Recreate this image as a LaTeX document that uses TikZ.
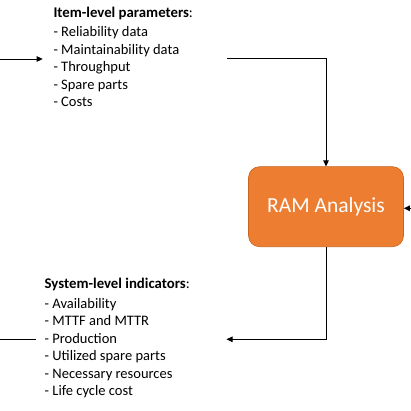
\documentclass[tikz,border=0pt]{standalone}
\usepackage{fontspec}
\setmainfont{Carlito}
\usetikzlibrary{arrows.meta}
\definecolor{ramorange}{HTML}{ED7D31}
\definecolor{ramedge}{HTML}{C8651F}
\begin{document}
\begin{tikzpicture}[x=1pt,y=-1pt,
  conn/.style={draw=black,line width=0.8pt},
  arr/.style={conn,-{Triangle[length=6pt,width=5.5pt]}},
  titletext/.style={anchor=base west,inner sep=0pt,font=\fontsize{14.8}{18}\selectfont},
  itemtext/.style={anchor=base west,inner sep=0pt,font=\fontsize{14.5}{17}\selectfont},
  rambox/.style={draw=ramedge,line width=0.6pt,fill=ramorange,rounded corners=11pt,minimum width=155pt,minimum height=80pt,inner sep=0pt,text=white,font=\fontsize{21.5}{24}\selectfont}]
\useasboundingbox[fill=white] (0,0) rectangle (411,411);
% Item-level block
\node[titletext] (ititle) at (53.3,18) {\textbf{Item-level parameters}:};
\node[itemtext] (i1) at (53.3,36.7) {- Reliability data};
\node[itemtext] (i2) at (53.3,54.2) {- Maintainability data};
\node[itemtext] (i3) at (53.3,71.7) {- Throughput};
\node[itemtext] (i4) at (53.3,89.2) {- Spare parts};
\node[itemtext] (i5) at (53.3,106.7) {- Costs};
% System-level block
\node[titletext] (stitle) at (44.5,288.5) {\textbf{System-level indicators}:};
\node[itemtext] (s1) at (44.5,308.3) {- Availability};
\node[itemtext] (s2) at (44.5,325.8) {- MTTF and MTTR};
\node[itemtext] (s3) at (44.5,343.3) {- Production};
\node[itemtext] (s4) at (44.5,360.8) {- Utilized spare parts};
\node[itemtext] (s5) at (44.5,378.3) {- Necessary resources};
\node[itemtext] (s6) at (44.5,395.8) {- Life cycle cost};
% RAM box
\node[rambox] (ram) at (326,206.7) {RAM Analysis};
% connector end points
\coordinate (inL) at (0,59);
\coordinate (inT) at (42.7,59);
\coordinate (outT) at (227,58.3);
\coordinate (inR) at (411,208.3);
\coordinate (outB) at (226.5,339.3);
\coordinate (outL) at (0,339);
\coordinate (outLe) at (36,339);
% connectors
\draw[arr] (inL) -- (inT);
\draw[arr] (outT) -| (ram.north);
\draw[arr] (inR) -- (ram.east |- inR);
\draw[arr] (ram.south) |- (outB);
\draw[conn] (outL) -- (outLe);
\end{tikzpicture}
\end{document}
